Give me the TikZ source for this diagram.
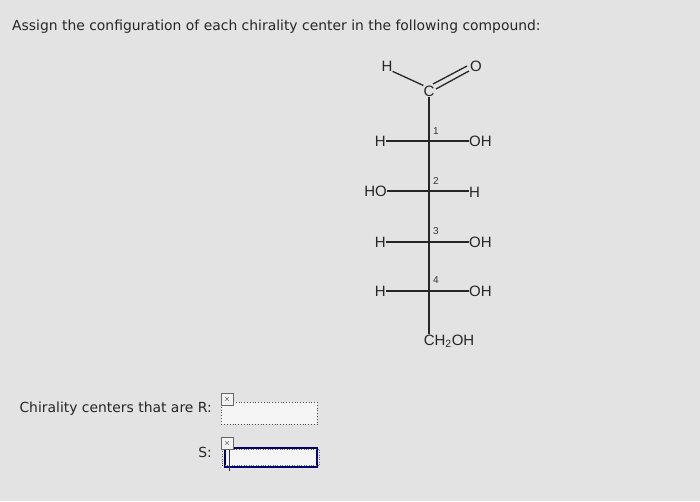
\documentclass[tikz,border=0pt]{standalone}
\usepackage{fontspec}
\setmainfont{DejaVu Sans}
\newfontfamily\chem{Liberation Sans}
\begin{document}
\begin{tikzpicture}[x=1pt,y=-1pt,
 bond/.style={line width=1.3pt,black!85},
 lab/.style={font=\chem\fontsize{15}{15}\selectfont,inner sep=0pt,text=black!85},
 num/.style={font=\chem\fontsize{10}{10}\selectfont,inner sep=0pt,text=black!80},
 txt/.style={font=\fontsize{13.9}{14}\selectfont,inner sep=0pt,text=black!85},
 ibox/.style={draw=black!70,fill=white!92!gray,inner sep=0pt}]
\fill[gray!22] (0,0) rectangle (700,501);
\useasboundingbox (0,0) rectangle (700,501);
\node[txt,anchor=west] (title) at (12,27) {Assign the configuration of each chirality center in the following compound:};
% structure
\node[lab] (C) at (429,91) {C};
\node[lab] (Ht) at (387,66) {H};
\node[lab] (O) at (476,66) {O};
\draw[bond] (Ht.south east) -- (C.north west);
\draw[bond] (433,84) -- (467,66);
\draw[bond] (436,89) -- (469,71);
\node[lab,anchor=east] (L1) at (386,141) {H};
\node[lab,anchor=east] (L2) at (387,191) {HO};
\node[lab,anchor=east] (L3) at (386,242) {H};
\node[lab,anchor=east] (L4) at (386,291) {H};
\node[lab,anchor=west] (R1) at (469,141) {OH};
\node[lab,anchor=west] (R2) at (469,192) {H};
\node[lab,anchor=west] (R3) at (469,242) {OH};
\node[lab,anchor=west] (R4) at (469,291) {OH};
\node[lab] (B) at (449,341) {CH\textsubscript{2}OH};
\draw[bond] (C.south) -- (B.north -| C.south);
\foreach \i in {1,...,4}{\draw[bond] (L\i.east) -- (R\i.west |- L\i.east);}
\node[num] (n1) at (436,131) {1};
\node[num] (n2) at (436,181) {2};
\node[num] (n3) at (436,231) {3};
\node[num] (n4) at (436,280) {4};
% answer
\node[txt,anchor=east] (Rl) at (212,409) {Chirality centers that are R:};
\node[txt,anchor=east] (Sl) at (212,452) {S:};
\node[ibox,dotted,thick,minimum width=96pt,minimum height=22pt,anchor=north west] (Rb) at (221,402) {};
\node[draw=blue!45!black,line width=1.6pt,fill=white!92!gray,minimum width=92pt,minimum height=19pt,anchor=north west,inner sep=0pt] (Sb) at (224,447) {};
\draw[black!60,dotted] ([xshift=-2pt,yshift=-2pt]Sb.north west) rectangle ([xshift=2pt,yshift=2pt]Sb.south east);
\draw[black!80,line width=0.8pt] ([xshift=5pt,yshift=3pt]Sb.north west) -- ([xshift=5pt,yshift=-3pt]Sb.south west);
\foreach \b/\y in {xr/393,xs/437}{
 \node[draw=black!60,fill=white!90!gray,minimum size=12pt,inner sep=0pt,font=\fontsize{8}{8}\selectfont,anchor=north west] (\b) at (221,\y) {$\times$};}
\end{tikzpicture}
\end{document}
